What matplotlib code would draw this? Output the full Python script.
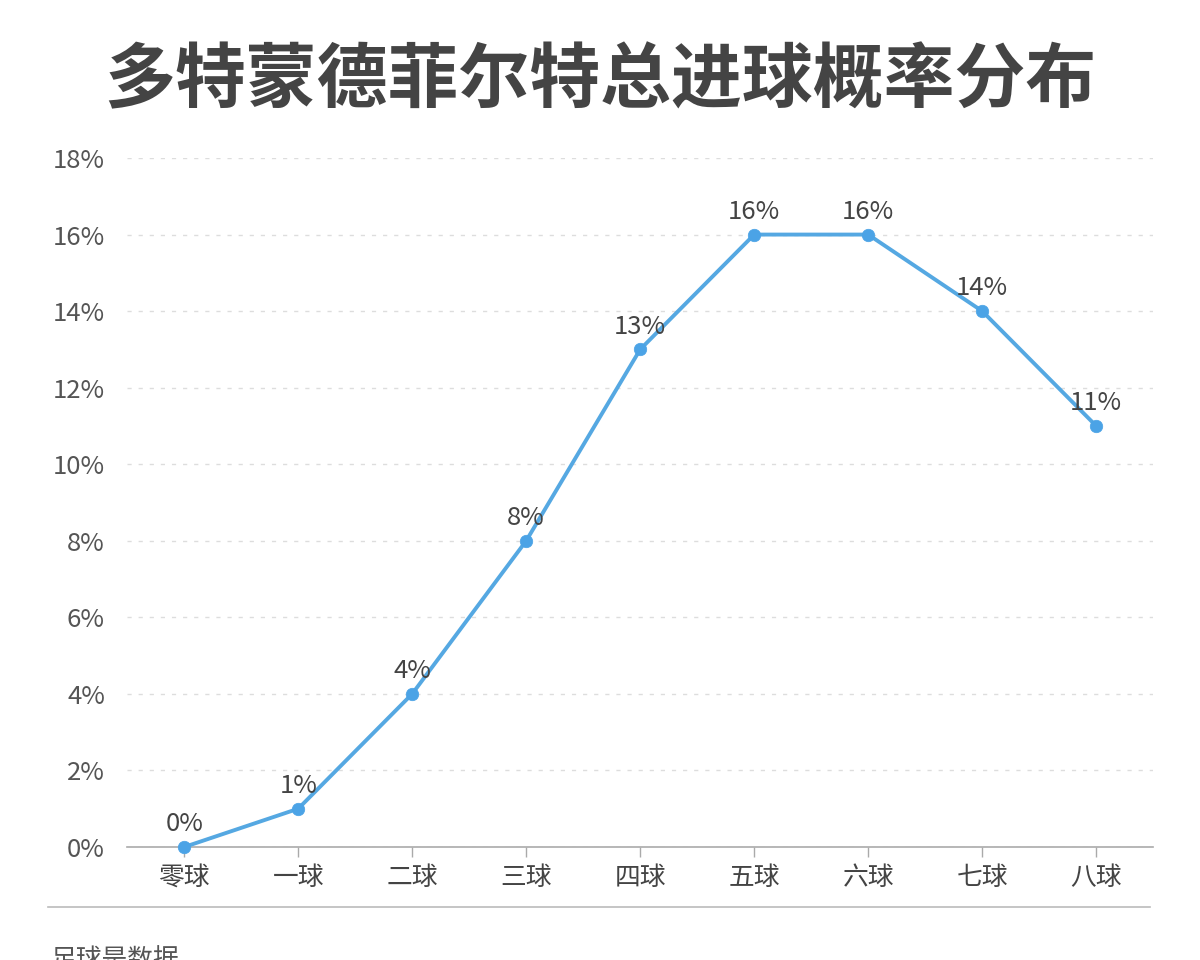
import matplotlib.pyplot as plt
import numpy as np

plt.rcParams['font.family'] = ['Noto Sans CJK SC', 'DejaVu Sans']

# 数据
categories = ['零球', '一球', '二球', '三球', '四球', '五球', '六球', '七球', '八球']
probs = [0, 1, 4, 8, 13, 16, 16, 14, 11]
yticks = [0, 2, 4, 6, 8, 10, 12, 14, 16, 18]

title = '多特蒙德菲尔特总进球概率分布'
source = '足球是数据'

fig = plt.figure(figsize=(12, 9.6), dpi=100)
fig.patch.set_facecolor('white')
ax = fig.add_axes([0.106, 0.1177, 0.855, 0.7177])

x = np.arange(len(categories))
ax.plot(x, probs, color='#55a8e2', lw=2.8, marker='o', ms=9,
        markerfacecolor='#4ba3e6', markeredgecolor='#4ba3e6', markeredgewidth=0.5,
        clip_on=False, zorder=3)

for xi, v in zip(x, probs):
    ax.annotate(f'{v}%', (xi, v), xytext=(0, 7), textcoords='offset points',
                ha='center', va='bottom', fontsize=18.5, color='#444444')

ax.set_xlim(-0.5, len(categories) - 0.5)
ax.set_ylim(0, 18)
ax.set_xticks(x)
ax.set_xticklabels(categories, fontsize=18.5, color='#444444')
ax.set_yticks(yticks)
ax.set_yticklabels([f'{t}%' for t in yticks], fontsize=18.5, color='#555555')

ax.tick_params(axis='y', length=0, pad=16)
ax.tick_params(axis='x', length=7, width=1, color='#aaaaaa', pad=6)

for s in ['top', 'right', 'left']:
    ax.spines[s].set_visible(False)
ax.spines['bottom'].set_color('#aaaaaa')
ax.spines['bottom'].set_linewidth(1.2)

ax.yaxis.grid(True, linestyle=(0, (3, 5)), color='#dddddd', lw=1)
ax.set_axisbelow(True)

fig.text(0.5, 0.915, title, ha='center', va='center', fontsize=51,
         fontweight='bold', color='#444444')

# 底部分隔线和来源
fig.add_artist(plt.Line2D([0.04, 0.958], [0.055, 0.055], color='#bbbbbb', lw=1.2))
fig.text(0.042, 0.0, source, ha='left', va='center', fontsize=18.5, color='#555555')

fig.savefig('out.png', dpi=100, facecolor='white')
